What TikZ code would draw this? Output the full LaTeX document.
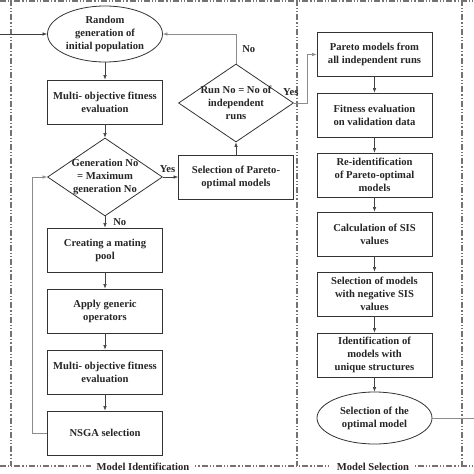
\documentclass[tikz,border=0pt]{standalone}
\usepackage{fontspec}
\setmainfont{Liberation Serif}
\usetikzlibrary{shapes.geometric,arrows.meta}
\begin{document}
\begin{tikzpicture}[
      node distance=61pt,
      txt/.style={
        font=\fontsize{10.6}{13}\selectfont\bfseries,
        align=center,
        text=black!85
      },
      boite/.style={
        txt,
        draw=black!80,
        line width=0.8pt,
        rectangle,
        minimum width=115pt,
        minimum height=44pt,
        inner sep=1pt
      },
      ovale/.style={
        txt,
        draw=black!80,
        line width=0.8pt,
        ellipse,
        inner sep=0pt,
        minimum width=115pt,
        minimum height=56pt
      },
      losange/.style={
        txt,
        draw=black!80,
        line width=0.8pt,
        diamond,
        aspect=1.5,
        inner sep=-6pt,
        minimum width=115pt,
        minimum height=78pt
      },
      lien/.style={
        draw=black!75,
        line width=0.6pt,
        -{Latex[length=4.5pt,width=3.5pt]}
      },
      boucle/.style={
        lien,
        draw=gray!90
      },
      cadre/.style={
        draw=gray!90!black,
        line width=1.3pt,
        dash pattern=on 6pt off 2pt on 1.2pt off 2pt on 1.2pt off 2pt
      },
      lbl/.style={
        font=\fontsize{10.6}{13}\selectfont\bfseries,
        text=black!85,
        inner sep=1pt
      }
    ]
    \useasboundingbox (0,0) rectangle (474pt,-474pt);

    % frame
    \draw[cadre] (0,-1pt) -- (474pt,-1pt);
    \draw[cadre] (11pt,0) -- (11pt,-466pt);
    \draw[cadre] (297pt,0) -- (297pt,-466pt);
    \draw[cadre] (462pt,0) -- (462pt,-466pt);
    \draw[cadre] (0,-466pt) -- (474pt,-466pt);
    \node[lbl, fill=white, inner xsep=6pt] (mid) at (143pt,-467pt) {Model Identification};
    \node[lbl, fill=white, inner xsep=6pt] (msel) at (373pt,-467pt) {Model Selection};

    % model identification
    \node[ovale] (rand) at (105pt,-34pt) {Random\\generation of\\initial population};
    \node[boite, below of=rand, node distance=68pt] (mof1) {Multi- objective fitness\\evaluation};
    \node[losange, below of=mof1, node distance=75pt] (gen) {Generation No\\= Maximum\\generation No};
    \node[boite, below of=gen, node distance=73pt] (pool) {Creating a mating\\pool};
    \node[boite, below of=pool] (oper) {Apply generic\\operators};
    \node[boite, below of=oper] (mof2) {Multi- objective fitness\\evaluation};
    \node[boite, below of=mof2] (nsga) {NSGA selection};
    \node[boite, right of=gen, node distance=131pt] (selp) {Selection of Pareto-\\optimal models};
    \node[losange, above of=selp, node distance=74pt] (run) {Run No = No of\\independent\\runs};

    % model selection
    \node[boite] (pm) at (374.5pt,-54.5pt) {Pareto models from\\all independent runs};
    \node[boite, below of=pm, node distance=60.5pt] (fit) {Fitness evaluation\\on validation data};
    \node[boite, below of=fit, node distance=60pt] (reid) {Re-identification\\of Pareto-optimal\\models};
    \node[boite, below of=reid, node distance=59pt] (sis) {Calculation of SIS\\values};
    \node[boite, below of=sis, node distance=60pt] (neg) {Selection of models\\with negative SIS\\values};
    \node[boite, below of=neg, node distance=61pt] (uniq) {Identification of\\models with\\unique structures};
    \node[ovale, below of=uniq, node distance=63pt, minimum height=52pt] (opt) {Selection of the\\optimal model};

    \coordinate (entree) at (0,-34pt);
    \coordinate (sortie) at (474pt,-418pt);

    \draw[lien] (entree) -- (rand.west);
    \draw[lien] (rand) -- (mof1);
    \draw[lien] (mof1) -- (gen);
    \draw[lien] (gen) -- node[lbl, right=7pt] {No} (pool);
    \draw[lien] (pool) -- (oper);
    \draw[lien] (oper) -- (mof2);
    \draw[lien] (mof2) -- (nsga);
    \draw[boucle] (nsga.west) -- ++(-15pt,0) |- (gen.west);
    \draw[lien] (gen.east) -- node[lbl, above=3pt, xshift=-3pt] {Yes} (selp.west);
    \draw[lien] (selp) -- (run);
    \draw[boucle] (run.north) |- node[lbl, pos=0.25, right=5pt] {No} (rand.east);
    \draw[boucle] (run.east) node[lbl, anchor=south, xshift=-3pt, yshift=6pt] {Yes} -- ++(13pt,0) |- (pm.west);
    \draw[lien] (pm) -- (fit);
    \draw[lien] (fit) -- (reid);
    \draw[lien] (reid) -- (sis);
    \draw[lien] (sis) -- (neg);
    \draw[lien] (neg) -- (uniq);
    \draw[lien] (uniq) -- (opt);
    \draw[draw=gray!90, line width=0.6pt] (opt.east) -- (sortie);

  \end{tikzpicture}
\end{document}
